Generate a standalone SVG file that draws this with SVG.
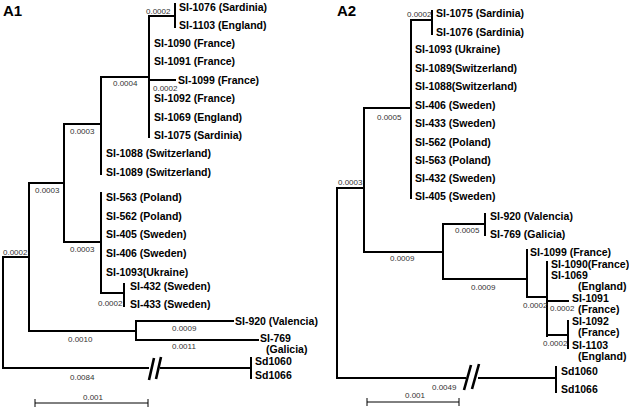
<svg xmlns="http://www.w3.org/2000/svg" width="629" height="408" viewBox="0 0 629 408">
<style>
.b{fill:none;stroke:#000;stroke-width:2;stroke-linecap:square}
.s{fill:none;stroke:#000;stroke-width:1}
.sl{fill:none;stroke:#000;stroke-width:2.6}
.t{font-family:"Liberation Sans",Arial,sans-serif;font-weight:bold;font-size:10.5px;fill:#000}
.n{font-family:"Liberation Sans",Arial,sans-serif;font-size:8px;fill:#333}
.h{font-family:"Liberation Sans",Arial,sans-serif;font-weight:bold;font-size:15px;fill:#000}
</style>
<rect width="629" height="408" fill="#fff"/>
<g id="connectors">
<path class="b" d="M175,4V27M149,16H175M149,16V137M149,80H175M101,77H149M101,77V174M64,124H101M64,124V242M64,242H101M101,193V293M101,293H124M124,284V306M29,183H64M29,183V331M29,331H136M136,321V340M136,321H233M136,340H258M3,257H29M3,257V368M3,368H148M161,368H251M251,358V378"/>
<path class="sl" d="M149,380L154,358M156,379L161,357"/>
<path class="b" d="M432,11V34M411,20H432M411,20V198M364,108H411M364,108V252M337,188H364M337,188V378M364,252H443M443,224V279M443,224H485M485,214V235M443,279H527M527,250V297M527,297H547M547,262V336M547,301H568M547,335H568M568,321V348M337,378H465M479,378H556M556,367V392"/>
<path class="sl" d="M464,390L471,365M472,389L479,364"/>
<path class="s" d="M35,403H148M35,399V407M148,399V407M367,402H459M367,398V406M459,398V406"/>
</g>
<g id="titles">
<text class="h" x="3" y="16">A1</text>
<text class="h" x="337" y="16">A2</text>
</g>
<g id="A1-leaves">
<text class="t" x="179" y="11">SI-1076 (Sardinia)</text>
<text class="t" x="179" y="29">SI-1103 (England)</text>
<text class="t" x="154" y="47">SI-1090 (France)</text>
<text class="t" x="154" y="65">SI-1091 (France)</text>
<text class="t" x="178" y="84">SI-1099 (France)</text>
<text class="t" x="154" y="102">SI-1092 (France)</text>
<text class="t" x="154" y="121">SI-1069 (England)</text>
<text class="t" x="154" y="139">SI-1075 (Sardinia)</text>
<text class="t" x="106" y="157">SI-1088 (Switzerland)</text>
<text class="t" x="106" y="176">SI-1089 (Switzerland)</text>
<text class="t" x="106" y="201">SI-563 (Poland)</text>
<text class="t" x="106" y="220">SI-562 (Poland)</text>
<text class="t" x="106" y="238">SI-405 (Sweden)</text>
<text class="t" x="106" y="257">SI-406 (Sweden)</text>
<text class="t" x="106" y="276">SI-1093(Ukraine)</text>
<text class="t" x="130" y="290">SI-432 (Sweden)</text>
<text class="t" x="130" y="308">SI-433 (Sweden)</text>
<text class="t" x="235" y="325">SI-920 (Valencia)</text>
<text class="t" x="260" y="342">SI-769</text>
<text class="t" x="266" y="353">(Galicia)</text>
<text class="t" x="255" y="365">Sd1060</text>
<text class="t" x="255" y="379">Sd1066</text>
</g>
<g id="A1-branch-lengths">
<text class="n" x="146" y="14">0.0002</text>
<text class="n" x="153" y="91">0.0002</text>
<text class="n" x="113" y="86">0.0004</text>
<text class="n" x="70" y="134">0.0003</text>
<text class="n" x="35" y="193">0.0003</text>
<text class="n" x="70" y="252">0.0003</text>
<text class="n" x="98" y="306">0.0002</text>
<text class="n" x="3" y="255">0.0002</text>
<text class="n" x="68" y="342">0.0010</text>
<text class="n" x="172" y="331">0.0009</text>
<text class="n" x="172" y="349">0.0011</text>
<text class="n" x="70" y="380">0.0084</text>
<text class="n" x="83" y="400">0.001</text>
</g>
<g id="A2-leaves">
<text class="t" x="436" y="17">SI-1075 (Sardinia)</text>
<text class="t" x="436" y="36">SI-1076 (Sardinia)</text>
<text class="t" x="415" y="53">SI-1093 (Ukraine)</text>
<text class="t" x="415" y="72">SI-1089(Switzerland)</text>
<text class="t" x="415" y="90">SI-1088(Switzerland)</text>
<text class="t" x="415" y="109">SI-406 (Sweden)</text>
<text class="t" x="415" y="127">SI-433 (Sweden)</text>
<text class="t" x="415" y="146">SI-562 (Poland)</text>
<text class="t" x="415" y="164">SI-563 (Poland)</text>
<text class="t" x="415" y="182">SI-432 (Sweden)</text>
<text class="t" x="415" y="200">SI-405 (Sweden)</text>
<text class="t" x="490" y="220">SI-920 (Valencia)</text>
<text class="t" x="490" y="238">SI-769 (Galicia)</text>
<text class="t" x="530" y="256">SI-1099 (France)</text>
<text class="t" x="551" y="268">SI-1090(France)</text>
<text class="t" x="551" y="279">SI-1069</text>
<text class="t" x="578" y="289.5">(England)</text>
<text class="t" x="572" y="302">SI-1091</text>
<text class="t" x="578" y="312.5">(France)</text>
<text class="t" x="572" y="325">SI-1092</text>
<text class="t" x="578" y="336">(France)</text>
<text class="t" x="572" y="349">SI-1103</text>
<text class="t" x="578" y="360">(England)</text>
<text class="t" x="561" y="375">Sd1060</text>
<text class="t" x="561" y="393">Sd1066</text>
</g>
<g id="A2-branch-lengths">
<text class="n" x="407" y="17">0.0002</text>
<text class="n" x="377" y="120">0.0005</text>
<text class="n" x="338" y="185">0.0003</text>
<text class="n" x="390" y="261">0.0009</text>
<text class="n" x="455" y="233">0.0005</text>
<text class="n" x="471" y="290">0.0009</text>
<text class="n" x="523" y="308">0.0002</text>
<text class="n" x="550" y="311">0.0002</text>
<text class="n" x="543" y="346">0.0002</text>
<text class="n" x="432" y="390">0.0049</text>
<text class="n" x="405" y="398">0.001</text>
</g>
</svg>
